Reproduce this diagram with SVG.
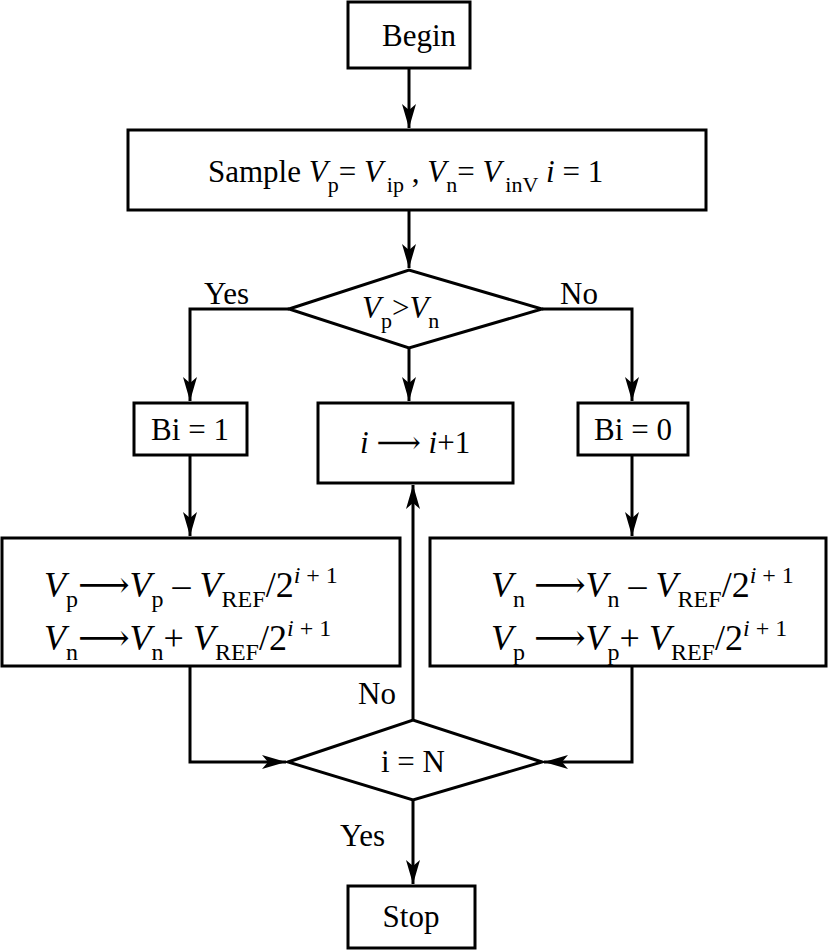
<svg xmlns="http://www.w3.org/2000/svg" width="829" height="952" viewBox="0 0 829 952">
<defs>
<marker id="a" viewBox="0 0 24 14" markerWidth="24" markerHeight="14" refX="24" refY="7" orient="auto" markerUnits="userSpaceOnUse"><path d="M0,0 L24,7 L0,14 L6,7 Z" fill="#000"/></marker></defs>
<style>
rect,polygon{fill:#fff;stroke:#000;stroke-width:3}
.c{fill:none;stroke:#000;stroke-width:3}
text{font-family:"Liberation Serif","Times New Roman","DejaVu Serif",serif;font-size:31px;fill:#000}
.i{font-style:italic}
.s{font-size:22px}
.f{font-size:36px}
.fs{font-size:24px}
</style>
<g id="connectors">
<path class="c" d="M409,68 V128" marker-end="url(#a)"/>
<path class="c" d="M409,210 V268" marker-end="url(#a)"/>
<path class="c" d="M289,309 H190 V401" marker-end="url(#a)"/>
<path class="c" d="M542,309 H632 V401" marker-end="url(#a)"/>
<path class="c" d="M409,348 V401" marker-end="url(#a)"/>
<path class="c" d="M190,455 V536" marker-end="url(#a)"/>
<path class="c" d="M632,455 V536" marker-end="url(#a)"/>
<path class="c" d="M413,720 V485" marker-end="url(#a)"/>
<path class="c" d="M190,666 V762 H286" marker-end="url(#a)"/>
<path class="c" d="M632,666 V762 H544" marker-end="url(#a)"/>
<path class="c" d="M413,800 V884" marker-end="url(#a)"/>
<text x="204" y="304">Yes</text>
<text x="560" y="304">No</text>
<text x="358" y="704">No</text>
<text x="340" y="846">Yes</text>
</g>
<g id="begin"><rect x="348" y="2" width="122" height="66"/><text x="419" y="46" text-anchor="middle">Begin</text></g>
<g id="sample"><rect x="128" y="130" width="578" height="80"/>
<text x="208" y="182">Sample <tspan class="i">V</tspan><tspan class="s" dy="10">p</tspan><tspan dy="-10">= </tspan><tspan class="i">V</tspan><tspan class="s" dy="10" dx="4">ip</tspan><tspan dy="-10"> ,  </tspan><tspan class="i">V</tspan><tspan class="s" dy="10">n</tspan><tspan dy="-10">= </tspan><tspan class="i">V</tspan><tspan class="s" dy="10" dx="4">inV</tspan><tspan dy="-10" class="i"> i</tspan><tspan> = 1</tspan></text></g>
<g id="cmp"><polygon points="289,309 409,270 542,309 409,348"/>
<text x="362" y="318"><tspan class="i">V</tspan><tspan class="s" dy="10">p</tspan><tspan dy="-10">&gt;</tspan><tspan class="i">V</tspan><tspan class="s" dy="10">n</tspan></text></g>
<g id="bi1"><rect x="134" y="403" width="113" height="52"/><text x="190" y="440" text-anchor="middle">Bi = 1</text></g>
<g id="bi0"><rect x="578" y="403" width="110" height="52"/><text x="633" y="440" text-anchor="middle">Bi = 0</text></g>
<g id="inc"><rect x="318" y="403" width="195" height="80"/><text x="360" y="453"><tspan class="i">i</tspan> ⟶ <tspan class="i">i</tspan>+1</text></g>
<g id="left"><rect x="2" y="538" width="398" height="128"/>
<text class="f" x="44" y="597"><tspan class="i">V</tspan><tspan class="fs" dy="10">p</tspan><tspan dy="-10">⟶</tspan><tspan class="i">V</tspan><tspan class="fs" dy="10">p</tspan><tspan dy="-10"> – </tspan><tspan class="i">V</tspan><tspan class="fs" dy="10">REF</tspan><tspan dy="-10">/2</tspan><tspan class="fs i" dy="-14">i</tspan><tspan class="fs"> + 1</tspan></text>
<text class="f" x="44" y="650"><tspan class="i">V</tspan><tspan class="fs" dy="10">n</tspan><tspan dy="-10">⟶</tspan><tspan class="i">V</tspan><tspan class="fs" dy="10">n</tspan><tspan dy="-10">+ </tspan><tspan class="i">V</tspan><tspan class="fs" dy="10">REF</tspan><tspan dy="-10">/2</tspan><tspan class="fs i" dy="-14">i</tspan><tspan class="fs"> + 1</tspan></text></g>
<g id="right"><rect x="430" y="538" width="396" height="128"/>
<text class="f" x="491" y="597"><tspan class="i">V</tspan><tspan class="fs" dy="10">n</tspan><tspan dy="-10"> ⟶</tspan><tspan class="i">V</tspan><tspan class="fs" dy="10">n</tspan><tspan dy="-10"> – </tspan><tspan class="i">V</tspan><tspan class="fs" dy="10">REF</tspan><tspan dy="-10">/2</tspan><tspan class="fs i" dy="-14">i</tspan><tspan class="fs"> + 1</tspan></text>
<text class="f" x="491" y="650"><tspan class="i">V</tspan><tspan class="fs" dy="10">p</tspan><tspan dy="-10"> ⟶</tspan><tspan class="i">V</tspan><tspan class="fs" dy="10">p</tspan><tspan dy="-10">+ </tspan><tspan class="i">V</tspan><tspan class="fs" dy="10">REF</tspan><tspan dy="-10">/2</tspan><tspan class="fs i" dy="-14">i</tspan><tspan class="fs"> + 1</tspan></text></g>
<g id="check"><polygon points="288,762 413,720 542,762 413,800"/><text x="413" y="772" text-anchor="middle">i = N</text></g>
<g id="stop"><rect x="348" y="886" width="127" height="62"/><text x="411" y="927" text-anchor="middle">Stop</text></g>
</svg>
